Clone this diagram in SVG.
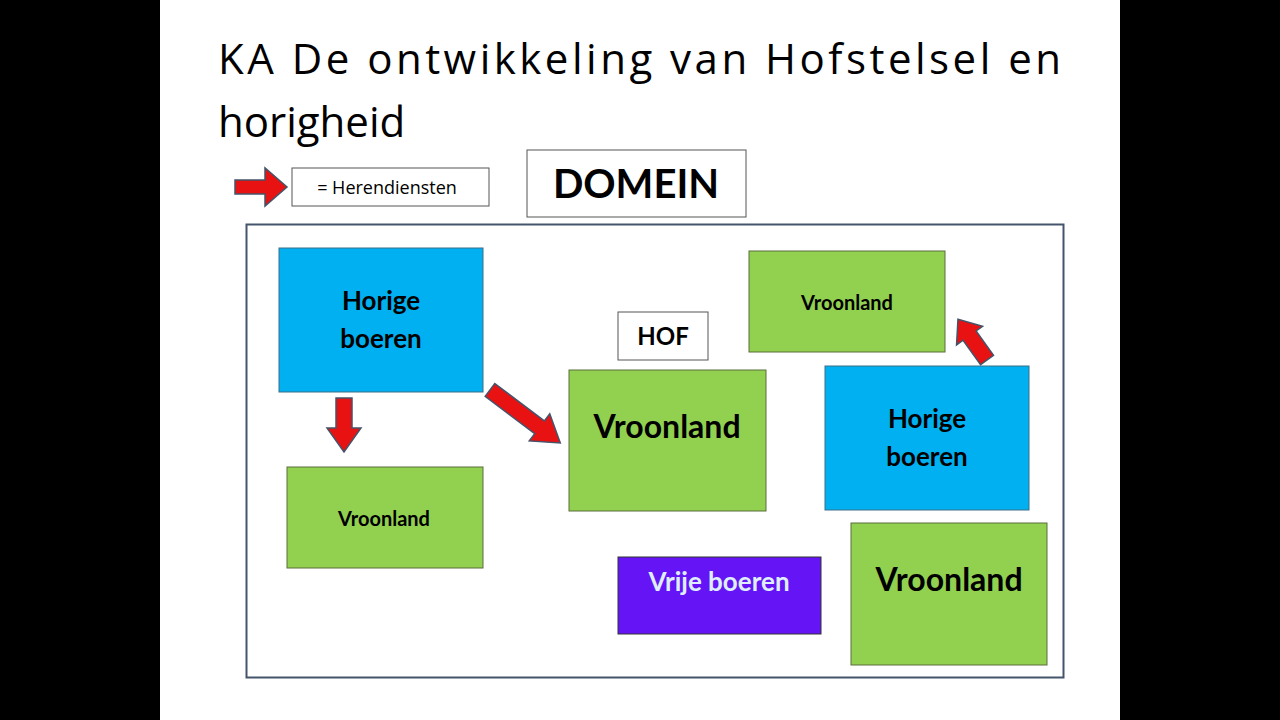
<svg xmlns="http://www.w3.org/2000/svg" width="1280" height="720" viewBox="0 0 1280 720">
<style>
.bar{fill:#000}
.g{fill:#92d050;stroke:#5a6e3a;stroke-width:1}
.b{fill:#00b0f0;stroke:#3a6e8a;stroke-width:1}
.w{fill:#fff;stroke:#555;stroke-width:1}
.arr{fill:#e81212;stroke:#44546a;stroke-width:1.5;stroke-linejoin:miter}
.t{font-family:Lato,"Open Sans",sans-serif;font-weight:bold;fill:#000;text-anchor:middle}
</style>
<rect width="1280" height="720" fill="#fff"/>
<rect class="bar" x="0" y="0" width="160" height="720"/>
<rect class="bar" x="1120" y="0" width="160" height="720"/>
<text x="218" y="74" font-family="'Open Sans',sans-serif" font-size="42" fill="#000" textLength="843" lengthAdjust="spacing">KA De ontwikkeling van Hofstelsel en</text>
<text x="218" y="137" font-family="'Open Sans',sans-serif" font-size="42" fill="#000">horigheid</text>
<g id="legend">
<rect class="w" x="292" y="168" width="197" height="38"/>
<text x="387" y="194" font-family="'Open Sans',sans-serif" font-size="18" fill="#000" text-anchor="middle">= Herendiensten</text>
</g>
<g id="domein-label">
<rect class="w" x="527" y="150" width="219" height="67"/>
<text class="t" x="636" y="198" font-size="40">DOMEIN</text>
</g>
<g id="domein">
<rect x="246.5" y="224.5" width="817" height="453" fill="#fff" stroke="#44546a" stroke-width="2"/>
</g>
<g id="horige1">
<rect class="b" x="279" y="248" width="204" height="144"/>
<text class="t" x="381" y="310" font-size="26">Horige</text>
<text class="t" x="381" y="348" font-size="26">boeren</text>
</g>
<g id="vroon1">
<rect class="g" x="287" y="467" width="196" height="101"/>
<text class="t" x="384" y="526" font-size="20">Vroonland</text>
</g>
<g id="hof">
<rect class="w" x="618" y="312" width="90" height="48"/>
<text class="t" x="663" y="345" font-size="24">HOF</text>
</g>
<g id="vroon-hof">
<rect class="g" x="569" y="370" width="197" height="141"/>
<text class="t" x="667" y="438" font-size="32">Vroonland</text>
</g>
<g id="vroon2">
<rect class="g" x="749" y="251" width="196" height="101"/>
<text class="t" x="847" y="310" font-size="20">Vroonland</text>
</g>
<g id="horige2">
<rect class="b" x="825" y="366" width="204" height="144"/>
<text class="t" x="927" y="428" font-size="26">Horige</text>
<text class="t" x="927" y="466" font-size="26">boeren</text>
</g>
<g id="vrije">
<rect x="618" y="557" width="203" height="77" fill="#6414f5" stroke="#333" stroke-width="1"/>
<text class="t" x="719" y="591" font-size="26" style="fill:#dfeeff">Vrije boeren</text>
</g>
<g id="vroon3">
<rect class="g" x="851" y="523" width="196" height="142"/>
<text class="t" x="949" y="591" font-size="32">Vroonland</text>
</g>
<g id="connectors">
<polygon class="arr" transform="translate(235,187)" points="0,-7 30,-7 30,-19 52,0 30,19 30,7 0,7"/>
<polygon class="arr" transform="translate(344,398) rotate(90)" points="0,-8 30,-8 30,-17 54,0 30,17 30,8 0,8"/>
<polygon class="arr" transform="translate(490,390) rotate(37)" points="0,-8 62,-8 62,-17 88,0 62,17 62,8 0,8"/>
<polygon class="arr" transform="translate(987,360) rotate(234.5)" points="0,-8 30,-8 30,-16 50,0 30,16 30,8 0,8"/>
</g>
</svg>
